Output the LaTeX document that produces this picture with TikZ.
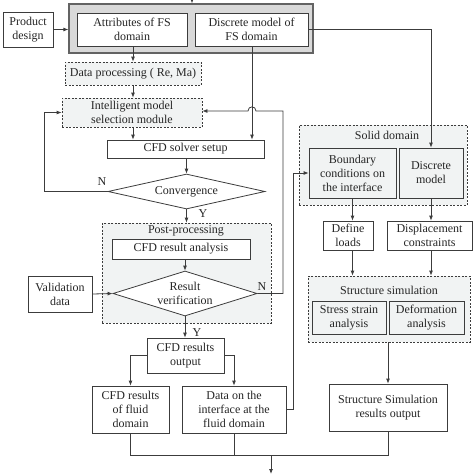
\documentclass[tikz,border=0pt]{standalone}
\usepackage{fontspec}
\setmainfont{Liberation Serif}
\usetikzlibrary{arrows.meta,shapes.geometric}
\definecolor{ln}{HTML}{3C3C3C}
\definecolor{grayfill}{HTML}{D9D9D9}
\definecolor{lightfill}{HTML}{F1F3F3}
\begin{document}
\begin{tikzpicture}[x=1pt,y=-1pt,
  every node/.style={font=\fontsize{12}{14}\selectfont, text=black!85},
  box/.style={draw=ln, line width=0.8pt, fill=white, align=center, inner sep=1pt},
  lbox/.style={box, fill=lightfill},
  dbox/.style={draw=ln, line width=0.8pt, dashed, dash pattern=on 2pt off 1.5pt, fill=lightfill, inner sep=0pt},
  gbox/.style={draw=ln!80, line width=1.2pt, fill=grayfill, inner sep=0pt},
  dia/.style={draw=ln, line width=0.8pt, fill=white, shape=diamond, aspect=3.2, inner sep=0pt, align=center},
  conn/.style={draw=ln, line width=0.8pt},
  arr/.style={conn, -{Latex[length=5pt,width=4pt]}},
  lbl/.style={inner sep=0pt}
]
\useasboundingbox (0,0) rectangle (474,474);

% containers
\node[gbox, minimum width=244pt, minimum height=49pt] (gray) at (191,28.5) {};
\node[dbox, minimum width=169pt, minimum height=100pt] (post) at (186.5,273) {};
\node[dbox, minimum width=168pt, minimum height=80pt] (solid) at (383,165) {};
\node[dbox, minimum width=162pt, minimum height=66pt] (struct) at (389,309) {};

% titles
\node[lbl] (tpost) at (186,231) {Post-processing};
\node[lbl] (tsolid) at (387,135) {Solid domain};
\node[lbl] (tstruct) at (389,290) {Structure simulation};

% boxes
\node[box, minimum width=50pt, minimum height=35pt] (prod) at (28,29.5) {Product\\design};
\node[box, minimum width=110pt, minimum height=33pt] (attr) at (132,29.5) {Attributes of FS\\domain};
\node[box, minimum width=113pt, minimum height=33pt] (disc) at (251.5,29.5) {Discrete model of\\FS domain};
\node[dbox, minimum width=136pt, minimum height=23pt, align=center] (dproc) at (133,73.5) {Data processing ( Re, Ma)};
\node[dbox, minimum width=140pt, minimum height=29pt, align=center] (intel) at (132,112.5) {Intelligent model\\selection module};
\node[box, minimum width=157pt, minimum height=18pt] (setup) at (185.5,149) {CFD solver setup};
\node[dia, minimum width=157pt, minimum height=35pt] (conv) at (186.5,191.5) {Convergence};
\node[box, minimum width=138pt, minimum height=20pt] (cra) at (181,249) {CFD result analysis};
\node[dia, minimum width=144pt, minimum height=45pt] (resver) at (185,293.5) {Result\\verification};
\node[box, minimum width=64pt, minimum height=36pt] (valid) at (60,294) {Validation\\data};
\node[box, minimum width=77pt, minimum height=35pt] (cfdout) at (185.5,355.5) {CFD results\\output};
\node[box, minimum width=77pt, minimum height=47pt] (fluid) at (130.5,409.5) {CFD results\\of fluid\\domain};
\node[box, minimum width=104pt, minimum height=47pt] (inter) at (234,409.5) {Data on the\\interface at the\\fluid domain};
\node[lbox, minimum width=87pt, minimum height=50pt] (bound) at (352.5,173) {Boundary\\conditions on\\the interface};
\node[lbox, minimum width=64pt, minimum height=50pt] (discm) at (431,173) {Discrete\\model};
\node[box, minimum width=50pt, minimum height=29pt] (loads) at (348,235.5) {Define\\loads};
\node[box, minimum width=85pt, minimum height=29pt] (disp) at (429.5,235.5) {Displacement\\constraints};
\node[lbox, minimum width=74pt, minimum height=33pt] (stress) at (349,317.5) {Stress strain\\analysis};
\node[lbox, minimum width=75pt, minimum height=33pt] (deform) at (426.5,317.5) {Deformation\\analysis};
\node[box, minimum width=118pt, minimum height=47pt] (ssout) at (388,407.5) {Structure Simulation\\results output};

% coordinates
\coordinate (top) at (192,0);
\coordinate (nloop) at (44,112.5);
\coordinate (rloop) at (283,111);
\coordinate (hopR) at (256,111);
\coordinate (hopL) at (248,111);
\coordinate (iloop) at (293,173);
\coordinate (mrg) at (271,455);
\coordinate (endpt) at (271,474);

% connectors
\draw[arr] (top) -- (top |- gray.north);
\draw[arr] (prod.east) -- (prod.east -| gray.west);
\draw[arr] (133,0 |- attr.south) -- (133,0 |- dproc.north);
\draw[arr] (133,0 |- dproc.south) -- (133,0 |- intel.north);
\draw[arr] (133,0 |- intel.south) -- (133,0 |- setup.north);
\draw[arr] (conv.north |- setup.south) -- (conv.north);
\draw[arr] (conv.west) -| (nloop) -- (intel.west);
\draw[arr] (conv.south) -- (conv.south |- post.north);
\draw[arr] (resver.north |- cra.south) -- (resver.north);
\draw[arr] (valid.east) -- (resver.west);
\draw[arr] (resver.east) -| (rloop) -- (hopR) .. controls (256,105.5) and (248,105.5) .. (hopL) -- (hopL -| intel.east);
\draw[arr] (252,0 |- disc.south) -- (252,0 |- setup.north);
\draw[arr] (disc.east) -| (discm.north);
\draw[arr] (resver.south) -- (resver.south |- cfdout.north);
\draw[arr] (cfdout.west) -| (fluid.north);
\draw[arr] (cfdout.east) -| (inter.north);
\draw[arr] (inter.east) -| (iloop) -- (bound.west);
\draw[arr] (bound.south) -- (bound.south |- loads.north);
\draw[arr] (discm.south) -- (discm.south |- disp.north);
\draw[arr] (bound.south |- loads.south) -- (bound.south |- struct.north);
\draw[arr] (discm.south |- disp.south) -- (discm.south |- struct.north);
\draw[arr] (ssout.north |- struct.south) -- (ssout.north);
\draw[conn] (fluid.south) |- (mrg);
\draw[conn] (ssout.south) |- (mrg);
\draw[conn] (inter.south) -- (inter.south |- mrg);
\draw[arr] (mrg) -- (endpt);

% labels
\node[lbl] (n1) at (102,182) {N};
\node[lbl] (y1) at (203,214) {Y};
\node[lbl] (n2) at (262,287) {N};
\node[lbl] (y2) at (197,333) {Y};
\end{tikzpicture}
\end{document}
